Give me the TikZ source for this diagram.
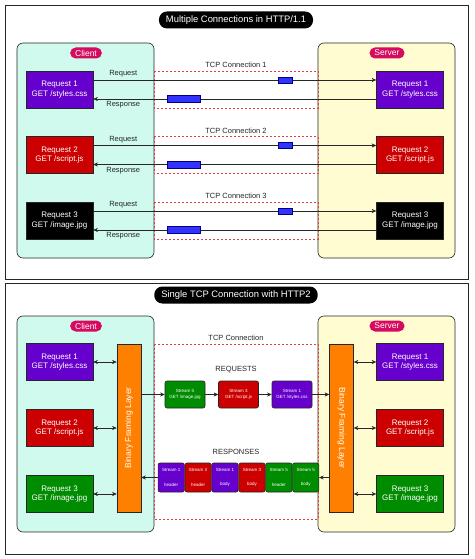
\documentclass[tikz,border=0pt]{standalone}
\usepackage{fontspec}
\setmainfont{Liberation Sans}
\usetikzlibrary{arrows.meta,positioning}
\definecolor{clientc}{RGB}{208,250,238}
\definecolor{serverc}{RGB}{255,252,210}
\definecolor{pillc}{RGB}{214,10,94}
\definecolor{purplec}{RGB}{102,0,204}
\definecolor{redc}{RGB}{204,0,0}
\definecolor{greenc}{RGB}{0,140,0}
\definecolor{orangec}{RGB}{255,128,0}
\definecolor{packetc}{RGB}{51,51,255}
\definecolor{dashc}{RGB}{230,60,70}
\tikzstyle{panel} = [draw=black!85, thick]
\tikzstyle{side} = [draw=black!85, rounded corners=6pt, semithick]
\tikzstyle{title} = [
  fill=black,
  text=white,
  rounded corners=8pt,
  minimum height=17pt,
  inner xsep=7pt,
  font=\fontsize{9.4}{11}\selectfont,
]
\tikzstyle{pill} = [
  fill=pillc,
  text=white,
  rounded corners=5.5pt,
  minimum height=11pt,
  inner xsep=5pt,
  inner ysep=1pt,
  font=\fontsize{8.5}{10}\selectfont,
]
\tikzstyle{req} = [
  draw=black!85,
  semithick,
  text=white,
  minimum width=67pt,
  minimum height=37pt,
  align=center,
  font=\fontsize{8}{9.5}\selectfont,
]
\tikzstyle{stream} = [
  draw=black!85,
  semithick,
  text=white,
  rounded corners=2pt,
  align=center,
  inner sep=0pt,
  font=\fontsize{4.5}{5.5}\selectfont,
]
\tikzstyle{framing} = [
  draw=black!85,
  semithick,
  fill=orangec,
  text=white,
  minimum width=24pt,
  minimum height=168pt,
  inner sep=0pt,
  font=\fontsize{8.5}{10}\selectfont,
]
\tikzstyle{tcp} = [draw=dashc, dash pattern=on 2pt off 2pt, thin]
\tikzstyle{lbl} = [text=black!85, inner sep=1pt, font=\fontsize{7.5}{9}\selectfont]
\tikzstyle{link} = [draw=black!85, -{Stealth[length=4.5pt,width=4pt]}]
\tikzstyle{both} = [draw=black!85, {Stealth[length=4.5pt,width=4pt]}-{Stealth[length=4.5pt,width=4pt]}]
\tikzstyle{packet} = [fill=packetc, draw=blue!50!black, inner sep=0pt]

\begin{document}
\begin{tikzpicture}[x=1pt, y=-1pt]
    \useasboundingbox (0,0) rectangle (474,559);

    % Panel 1: HTTP/1.1
    \draw[panel] (5,5) rectangle (468,279);
    \node[title] (title1) at (236,20) {Multiple Connections in HTTP/1.1};

    \draw[side, fill=clientc] (17,43) rectangle (154,258);
    \draw[side, fill=serverc] (318,43) rectangle (455,258);
    \node[pill] (client1) at (86,53) {Client};
    \node[pill] (server1) at (387,53) {Server};

    % Connections
    \foreach \i/\y/\c/\f in {1/89.5/purplec/styles.css, 2/155/redc/script.js, 3/220.5/black/image.jpg} {
        \draw[tcp] (154,\y-18.5) rectangle (318,\y+18.5);
        \node[lbl] (tcp\i) at (236,\y-24.5) {TCP Connection \i};
        \node[req, fill=\c] (cl\i) at (59.5,\y) {Request \i\\GET /\f};
        \node[req, fill=\c] (sv\i) at (410,\y) {Request \i\\GET /\f};
        \draw[link] ([yshift=9.5pt]cl\i.east) --
            node[lbl, pos=0.106, above=1.5pt] {Request}
            node[packet, pos=0.68, minimum width=14pt, minimum height=6pt] {}
            ([yshift=9.5pt]sv\i.west);
        \draw[link] ([yshift=-9.5pt]sv\i.west) --
            node[lbl, pos=0.894, below=1.5pt] {Response}
            node[packet, pos=0.68, minimum width=33pt, minimum height=7pt] {}
            ([yshift=-9.5pt]cl\i.east);
    }

    % Panel 2: HTTP2
    \draw[panel] (5,283) rectangle (468,554);
    \node[title] (title2) at (236,295) {Single TCP Connection with HTTP2};

    \draw[side, fill=clientc] (17,316) rectangle (154,532);
    \draw[side, fill=serverc] (318,316) rectangle (455,532);
    \node[pill] (client2) at (86,326) {Client};
    \node[pill] (server2) at (387,326) {Server};

    \draw[tcp] (154,344) rectangle (318,519);
    \node[lbl] (tcp) at (236,338) {TCP Connection};

    \node[framing] (fl) at (129,428) {\rotatebox{90}{Binary Framing Layer}};
    \node[framing] (fr) at (341.5,428) {\rotatebox{-90}{Binary Framing Layer}};

    \foreach \i/\y/\c/\f in {1/362/purplec/styles.css, 2/428/redc/script.js, 3/494/greenc/image.jpg} {
        \node[req, fill=\c] (c\i) at (59.5,\y) {Request \i\\GET /\f};
        \node[req, fill=\c] (s\i) at (410,\y) {Request \i\\GET /\f};
        \draw[both] (c\i.east) -- (c\i.east -| fl.west);
        \draw[both] (s\i.west) -- (s\i.west -| fr.east);
    }

    % Requests
    \node[lbl] (reqs) at (236,370) {REQUESTS};
    \node[stream, fill=greenc, minimum width=40pt, minimum height=27pt] (q1) at (185,394.5) {Stream 5\\GET /image.jpg};
    \node[stream, fill=redc, minimum width=40pt, minimum height=27pt] (q2) at (238.5,394.5) {Stream 3\\GET /script.js};
    \node[stream, fill=purplec, minimum width=40pt, minimum height=27pt] (q3) at (292,394.5) {Stream 1\\GET /styles.css};
    \draw[link] (fl.east |- q1.west) -- (q1.west);
    \draw[link] (q1) -- (q2);
    \draw[link] (q2) -- (q3);
    \draw[link] (q3.east) -- (fr.west |- q3.east);

    % Responses
    \node[lbl] (resps) at (236,452) {RESPONSES};
    \node[stream, fill=purplec, minimum width=26.3pt, minimum height=29pt] (r1) at (171.2,477.5) {Stream 1\\[9pt]header};
    \foreach \j/\k/\c/\n/\p in {2/1/redc/3/header, 3/2/purplec/1/body, 4/3/redc/3/body, 5/4/greenc/5/header, 6/5/greenc/5/body}
        \node[stream, fill=\c, minimum width=26.3pt, minimum height=29pt, right=0pt of r\k] (r\j) {Stream \n\\[9pt]\p};
    \draw[link] (fr.west |- r6.east) -- (r6.east);
    \draw[link] (r1.west) -- (fl.east |- r1.west);
\end{tikzpicture}
\end{document}
